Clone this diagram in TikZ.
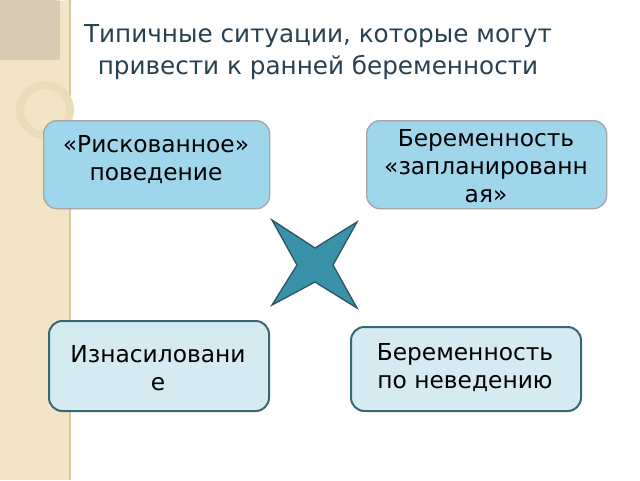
\documentclass[tikz,border=0pt]{standalone}
\usepackage{fontspec}
\setmainfont{DejaVu Sans}
\definecolor{topfill}{RGB}{160,214,236}
\definecolor{botfill}{RGB}{214,234,241}
\definecolor{botdraw}{RGB}{55,105,115}
\definecolor{beige}{RGB}{242,228,196}
\definecolor{beigeline}{RGB}{215,200,165}
\definecolor{beigedark}{RGB}{215,205,180}
\definecolor{beigering}{RGB}{235,220,185}
\definecolor{titlecol}{RGB}{40,65,80}
\definecolor{stardraw}{RGB}{45,85,100}
\definecolor{starfill}{RGB}{58,146,168}
\begin{document}
\begin{tikzpicture}[x=0.75pt,y=-0.75pt,
  topbox/.style={draw=gray!70,line width=1pt,rounded corners=10pt,fill=topfill,inner sep=0pt},
  botbox/.style={draw=botdraw,line width=1.5pt,rounded corners=10pt,fill=botfill,inner sep=0pt},
  lbl/.style={align=center,font=\fontsize{17.5}{21}\selectfont,text=black}]
\useasboundingbox (0,0) rectangle (640,480);
\fill[white] (0,0) rectangle (640,480);
\fill[beige] (0,0) rectangle (70,480);
\draw[beigeline,line width=1pt] (70,0) -- (70,480);
\fill[beigedark] (0,0) rectangle (60,60);
\draw[white,line width=1.2pt] (65,0) arc[start angle=90,end angle=250,radius=60];
\draw[beigering,line width=6pt] (45,110) circle[radius=25];
\node[font=\fontsize{18.5}{24}\selectfont,text=titlecol,align=center] (title) at (318,52) {Типичные ситуации, которые могут\\привести к ранней беременности};
\node[topbox,minimum width=169.5pt,minimum height=66pt,anchor=north west] (a) at (43,120) {};
\node[lbl] (at) at (156,160) {«Рискованное»\\поведение};
\node[topbox,minimum width=180pt,minimum height=66pt,anchor=north west] (b) at (366,120) {};
\node[lbl] (bt) at (486,166) {Беременность\\«запланированн\\ая»};
\node[botbox,minimum width=165pt,minimum height=67.5pt,anchor=north west] (c) at (48,320) {};
\node[lbl] (ct) at (158,368) {Изнасиловани\\е};
\node[botbox,minimum width=172.5pt,minimum height=63pt,anchor=north west] (d) at (350,326) {};
\node[lbl] (dt) at (465,368) {Беременность\\по неведению};
\draw[stardraw,line width=1pt,fill=starfill]
 (272,220) -- (315,248) -- (357,222) -- (333,265) -- (357,308) -- (315,282) -- (272,305) -- (297,265) -- cycle;
\end{tikzpicture}
\end{document}
